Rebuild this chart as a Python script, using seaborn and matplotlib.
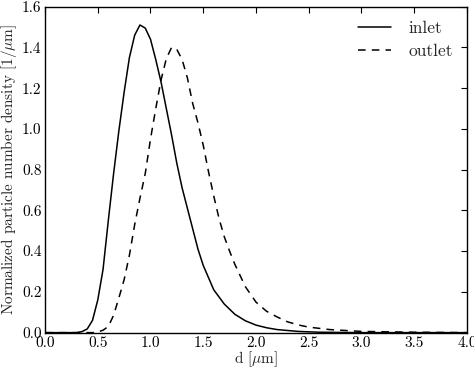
import numpy as np
import pandas as pd
import seaborn as sns
import matplotlib
matplotlib.use('Agg')
import matplotlib.pyplot as plt

# values
d_inlet = [0.0, 0.3, 0.35, 0.4, 0.45, 0.5, 0.55, 0.6, 0.65, 0.7, 0.75, 0.8, 0.85,
           0.9, 0.95, 1.0, 1.05, 1.1, 1.15, 1.2, 1.25, 1.3, 1.35, 1.4, 1.45, 1.5,
           1.55, 1.6, 1.7, 1.8, 1.9, 2.0, 2.1, 2.2, 2.4, 2.6, 3.0, 4.0]
inlet = [0.0, 0.0, 0.005, 0.018, 0.06, 0.16, 0.31, 0.55, 0.78, 0.99, 1.18, 1.35, 1.46,
         1.51, 1.495, 1.44, 1.34, 1.23, 1.10, 0.97, 0.83, 0.71, 0.61, 0.51, 0.41, 0.33,
         0.27, 0.21, 0.14, 0.09, 0.058, 0.037, 0.024, 0.015, 0.006, 0.002, 0.0, 0.0]

d_outlet = [0.0, 0.45, 0.5, 0.55, 0.6, 0.65, 0.7, 0.75, 0.8, 0.85, 0.9, 0.95, 1.0,
            1.05, 1.1, 1.15, 1.2, 1.25, 1.3, 1.35, 1.4, 1.45, 1.5, 1.55, 1.6, 1.65,
            1.7, 1.75, 1.8, 1.85, 1.9, 2.0, 2.1, 2.2, 2.3, 2.4, 2.5, 2.7, 3.0, 3.5, 4.0]
outlet = [0.0, 0.0, 0.003, 0.012, 0.03, 0.085, 0.17, 0.26, 0.38, 0.53, 0.66, 0.78, 0.95,
          1.10, 1.24, 1.345, 1.40, 1.39, 1.34, 1.25, 1.125, 1.03, 0.92, 0.79, 0.67, 0.56,
          0.47, 0.40, 0.335, 0.28, 0.225, 0.15, 0.105, 0.077, 0.053, 0.038, 0.027, 0.015,
          0.006, 0.002, 0.0]

xticks = np.arange(0, 4.01, 0.5)
yticks = np.arange(0, 1.61, 0.2)

sns.set_style('white')
plt.rcParams['font.family'] = 'serif'
plt.rcParams['font.serif'] = ['cmr10', 'DejaVu Serif']
plt.rcParams['mathtext.fontset'] = 'cm'
plt.rcParams['axes.formatter.use_mathtext'] = True

fig = plt.figure(figsize=(4.74, 3.70), dpi=100)
ax = fig.add_axes([0.095, 0.101, 0.89, 0.881])

sns.lineplot(x=d_inlet, y=inlet, ax=ax, color='black', lw=1.1, label='inlet')
sns.lineplot(x=d_outlet, y=outlet, ax=ax, color='black', lw=1.1, label='outlet',
             dashes=False)
ax.lines[1].set_dashes((5, 4))

ax.set_xlim(0, 4)
ax.set_ylim(0, 1.6)
ax.set_xticks(xticks)
ax.set_yticks(yticks)
ax.set_xticklabels([f'{t:.1f}' for t in xticks])
ax.set_yticklabels([f'{t:.1f}' for t in yticks])
ax.tick_params(direction='in', length=4, width=0.8, top=True, right=True,
               labelsize=11, pad=2.5, colors='black')
for s in ax.spines.values():
    s.set_color('black')
    s.set_linewidth(1.0)

ax.set_xlabel(r'd [$\mu$m]', fontsize=11, labelpad=0)
ax.set_ylabel(r'Normalized particle number density [1/$\mu$m]', fontsize=11,
              labelpad=2)

ax.legend(loc='upper right', frameon=False, fontsize=12.5, handlelength=1.9,
          handletextpad=1.0, labelspacing=0.45, borderaxespad=0.4)

fig.savefig('out.png', dpi=100)
